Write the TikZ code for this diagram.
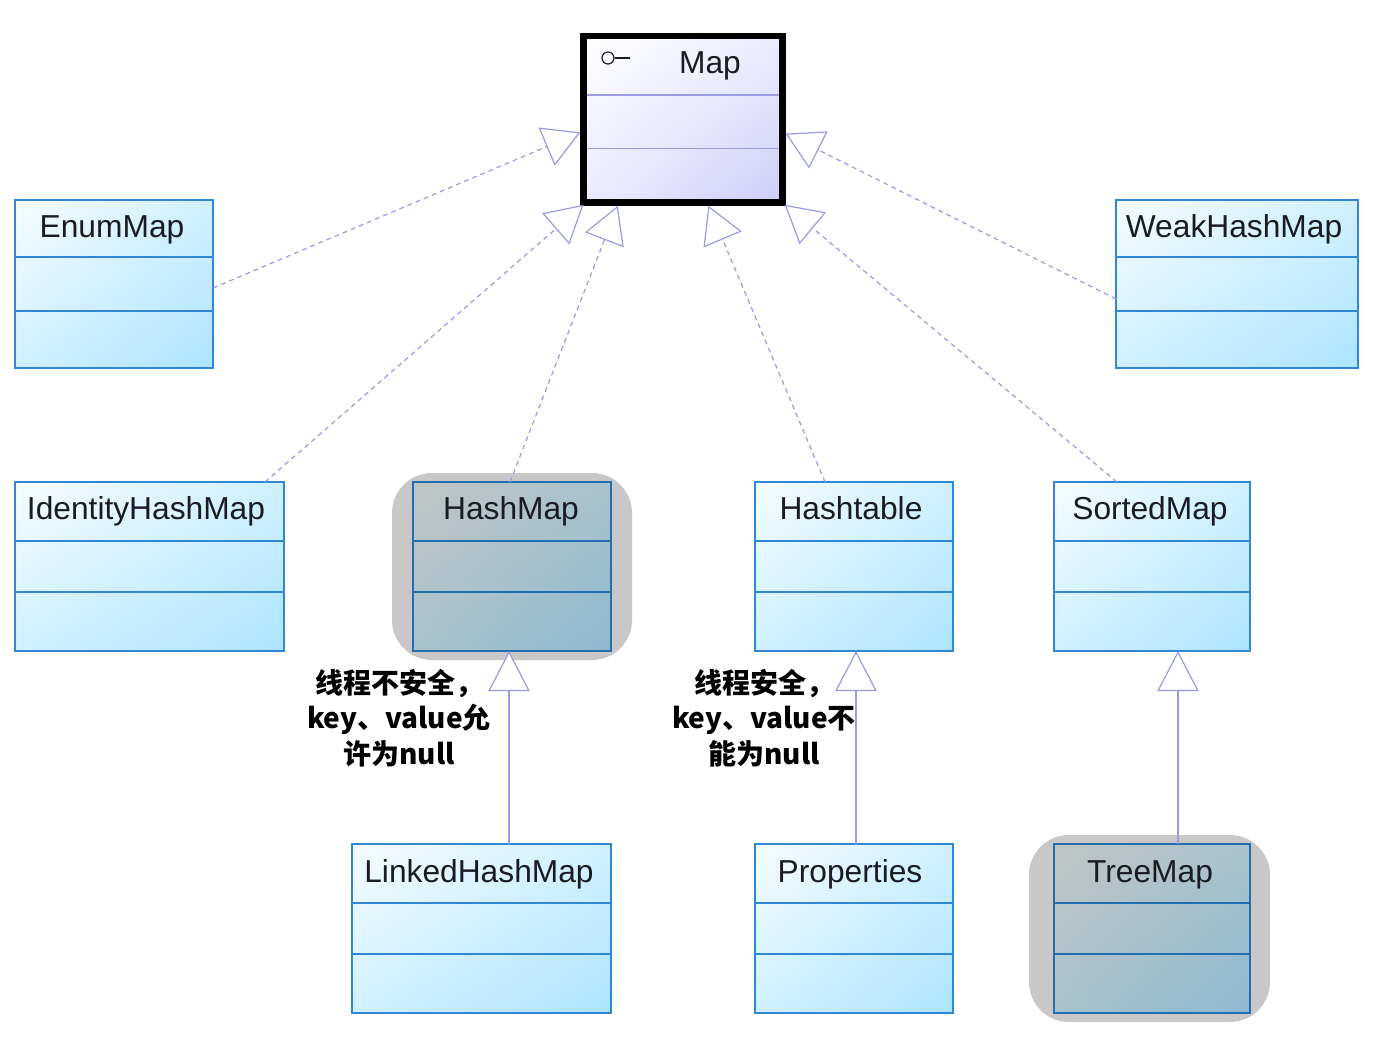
\documentclass[tikz,border=0pt]{standalone}
\usepackage{fontspec}
\setmainfont{Liberation Sans}
\newfontfamily\cjk{Noto Sans CJK SC}
\usetikzlibrary{arrows.meta,shadings}
\definecolor{umlblue}{RGB}{50,135,210}
\definecolor{umlpurple}{RGB}{155,155,225}
\definecolor{txtdark}{RGB}{25,28,32}
\definecolor{bluestart}{RGB}{245,252,255}
\definecolor{bluemid}{RGB}{208,240,255}
\definecolor{blueend}{RGB}{172,228,255}
\definecolor{greytl}{RGB}{192,197,196}
\definecolor{greymid}{RGB}{168,195,205}
\definecolor{greyend}{RGB}{142,184,208}
\definecolor{greyline}{RGB}{35,110,175}
\definecolor{mapmid}{RGB}{236,236,255}
\definecolor{mapend}{RGB}{205,205,248}
\definecolor{halogrey}{RGB}{201,199,199}
\tikzset{
  x=0.75pt,y=-0.75pt,
  umlbase/.style={rectangle,inner sep=0pt,outer sep=0pt},
  bluebox/.style={umlbase,draw=umlblue,line width=1pt,shade,upper left=bluestart,
    upper right=bluemid,lower left=bluemid,lower right=blueend},
  greybox/.style={umlbase,draw=greyline,line width=1pt,shade,upper left=greytl,
    upper right=greymid,lower left=greymid,lower right=greyend},
  mapbox/.style={umlbase,draw=black,line width=5pt,shade,upper left=white,
    upper right=mapmid,lower left=mapmid,lower right=mapend},
  boxtitle/.style={inner sep=0pt,anchor=base,text=txtdark,font=\fontsize{23.8pt}{28pt}\selectfont},
  seprule/.style={draw=umlblue,line width=1pt},
  greyseprule/.style={draw=greyline,line width=1pt},
  mapseprule/.style={draw=umlpurple,line width=0.9pt},
  halo/.style={rectangle,rounded corners=30pt,fill=halogrey,inner sep=0pt,outer sep=0pt},
  realize/.style={draw=umlpurple,line width=0.9pt,dash pattern=on 3.6pt off 3pt,shorten >=2.6pt,
    -{Triangle[length=27.5pt,width=31pt,fill=white,line width=0.9pt]}},
  inherit/.style={draw=umlpurple,line width=1pt,
    -{Triangle[length=30pt,width=31pt,fill=white,line width=0.9pt]}},
  note/.style={align=center,inner sep=0pt,text=black,font=\cjk\bfseries\fontsize{21pt}{26.6pt}\selectfont},
}
\newcommand{\umlclass}[9]{%
  \node[#9,minimum width={(#4-#2)*0.75pt},minimum height={(#5-#3)*0.75pt}] (#1) at ({(#2+#4)/2},{(#3+#5)/2}) {};%
  \draw[\umlsepstyle] (#1.west |- 0,#6) -- (#1.east |- 0,#6);%
  \draw[\umlsepstyle] (#1.west |- 0,#7) -- (#1.east |- 0,#7);%
  \node[boxtitle] (#1T) at (#8,\umltexty) {\umltext};%
}
\newcommand{\umlsepstyle}{seprule}
\newcommand{\umltexty}{238}
\newcommand{\umltext}{}
\begin{document}
\begin{tikzpicture}
\useasboundingbox (0,0) rectangle (1388,1038);
\fill[white] (0,0) rectangle (1388,1038);
% halos
\node[halo,minimum width=180pt,minimum height=140.25pt] (haloA) at (512,566.5) {};
\node[halo,minimum width=180.75pt,minimum height=140.25pt] (haloB) at (1149.5,928.5) {};
% top row
\renewcommand{\umlsepstyle}{seprule}
\renewcommand{\umltexty}{237}
\renewcommand{\umltext}{EnumMap}\umlclass{enum}{15}{200}{213}{368}{257}{311}{112}{bluebox}
\renewcommand{\umltext}{WeakHashMap}\umlclass{weak}{1116}{200}{1358}{368}{257}{311}{1234}{bluebox}
% second row
\renewcommand{\umltexty}{519}
\renewcommand{\umltext}{IdentityHashMap}\umlclass{ident}{15}{482}{284}{651}{541}{592}{146}{bluebox}
\renewcommand{\umltext}{Hashtable}\umlclass{table}{755}{482}{953}{651}{541}{592}{851}{bluebox}
\renewcommand{\umltext}{SortedMap}\umlclass{sorted}{1054}{482}{1250}{651}{541}{592}{1150}{bluebox}
\renewcommand{\umlsepstyle}{greyseprule}
\renewcommand{\umltext}{HashMap}\umlclass{hash}{413}{482}{611}{651}{541}{592}{511}{greybox}
% third row
\renewcommand{\umltexty}{882}
\renewcommand{\umltext}{TreeMap}\umlclass{tree}{1054}{844}{1250}{1013}{903}{954}{1150}{greybox}
\renewcommand{\umlsepstyle}{seprule}
\renewcommand{\umltext}{LinkedHashMap}\umlclass{linked}{352}{844}{611}{1013}{903}{954}{479}{bluebox}
\renewcommand{\umltext}{Properties}\umlclass{props}{755}{844}{953}{1013}{903}{954}{850}{bluebox}
% Map
\node[mapbox,minimum width=149.25pt,minimum height=124.9pt] (map) at (683,119.25) {};
\draw[mapseprule] (587,95) -- (779,95);
\draw[mapseprule] (587,148.5) -- (779,148.5);
\node[boxtitle] (mapT) at (710,74) {Map};
\node[circle,draw=txtdark,line width=0.9pt,minimum size=9pt,inner sep=0pt,fill=white] (lolly) at (608,58) {};
\coordinate (lollyEnd) at (630,58);
\draw[txtdark,line width=0.9pt] (lolly.east) -- (lollyEnd);
% realization connectors
\draw[realize] (enum.east |- 0,288) -- (map.west |- 0,131);
\draw[realize] (weak.west |- 0,299) -- (map.east |- 0,132);
\draw[realize] (ident.north -| 265,0) -- (map.south -| 586,0);
\draw[realize] (hash.north -| 510,0) -- (map.south -| 619,0);
\draw[realize] (table.north -| 825,0) -- (map.south -| 707,0);
\draw[realize] (sorted.north -| 1117,0) -- (map.south -| 782,0);
% inheritance connectors
\draw[inherit] (linked.north -| 509,0) -- (hash.south -| 509,0);
\draw[inherit] (props.north -| 856,0) -- (table.south -| 856,0);
\draw[inherit] (tree.north -| 1178,0) -- (sorted.south -| 1178,0);
% notes
\node[note] (noteA) at (399,718) {线程不安全，\\key、value允\\许为null};
\node[note] (noteB) at (764,718) {线程安全，\\key、value不\\能为null};
\end{tikzpicture}
\end{document}
